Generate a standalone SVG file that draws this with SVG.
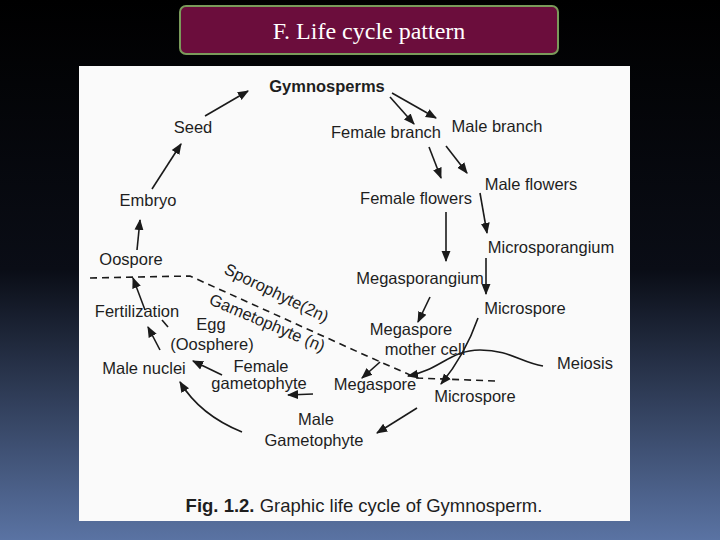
<svg xmlns="http://www.w3.org/2000/svg" width="720" height="540" viewBox="0 0 720 540">
<defs>
<linearGradient id="bg" x1="0" y1="0" x2="0" y2="1">
<stop offset="0" stop-color="#000"/><stop offset="0.5" stop-color="#0a0d16"/><stop offset="1" stop-color="#5a73a3"/>
</linearGradient>
<marker id="ah" viewBox="0 0 10 10" refX="9" refY="5" markerWidth="7" markerHeight="7" orient="auto-start-reverse">
<path d="M0,1 L10,5 L0,9 Z" fill="#1a1a1a"/>
</marker>
<style>
.t{font-family:"Liberation Sans",Arial,sans-serif;font-size:16.5px;fill:#1e1e1e;text-anchor:middle}
.b{font-weight:bold}
.c line,.c path{stroke:#1a1a1a;stroke-width:1.6;fill:none;marker-end:url(#ah)}
.d{stroke:#1a1a1a;stroke-width:1.6;fill:none;stroke-dasharray:7 5}
</style>
</defs>
<rect width="720" height="540" fill="url(#bg)"/>
<g id="title">
<rect x="180" y="6" width="378" height="48" rx="6" fill="#6b0d3c" stroke="#7a9a5a" stroke-width="2"/>
<text x="369" y="39" font-family="Liberation Serif,serif" font-size="24" fill="#fff" text-anchor="middle">F. Life cycle pattern</text>
</g>
<rect x="79" y="66" width="551" height="455" fill="#fafafa"/>
<path class="d" d="M90,278 L190,276 L367,356 L417,378 L495,381"/>
<g class="c">
<line x1="205" y1="116" x2="248" y2="91"/>
<line x1="152" y1="189" x2="181" y2="144"/>
<line x1="137" y1="250" x2="140" y2="220"/>
<line x1="390" y1="97" x2="414" y2="124"/>
<line x1="392" y1="93" x2="436" y2="118"/>
<line x1="429" y1="147" x2="441" y2="178"/>
<line x1="446" y1="146" x2="467" y2="173"/>
<line x1="480" y1="193" x2="487" y2="233"/>
<line x1="446" y1="212" x2="446" y2="261"/>
<line x1="486" y1="258" x2="486" y2="294"/>
<line x1="430" y1="297" x2="418" y2="322"/>
<path d="M478,318 Q465,355 441,384"/>
<path d="M543,366 C520,362 510,350 480,350 C450,350 440,370 408,376"/>
<line x1="380" y1="362" x2="362" y2="378"/>
<line x1="313" y1="394" x2="288" y2="395"/>
<line x1="222" y1="375" x2="193" y2="361"/>
<line x1="160" y1="350" x2="148" y2="327"/>
<path d="M242,432 Q200,415 180,382"/>
<line x1="417" y1="408" x2="377" y2="433"/>
<line x1="145" y1="310" x2="133" y2="278" stroke-width="2.4"/>
<line x1="168" y1="327" x2="162" y2="320" style="marker-end:none"/>
</g>
<g id="gymnosperms"><text class="t b" x="327" y="92">Gymnosperms</text></g>
<g id="seed"><text class="t" x="193" y="133">Seed</text></g>
<g id="female-branch"><text class="t" x="386" y="138">Female branch</text></g>
<g id="male-branch"><text class="t" x="497" y="132">Male branch</text></g>
<g id="embryo"><text class="t" x="148" y="206">Embryo</text></g>
<g id="male-flowers"><text class="t" x="531" y="190">Male flowers</text></g>
<g id="female-flowers"><text class="t" x="416" y="204">Female flowers</text></g>
<g id="microsporangium"><text class="t" x="551" y="253">Microsporangium</text></g>
<g id="oospore"><text class="t" x="131" y="265">Oospore</text></g>
<g id="megasporangium"><text class="t" x="420" y="284">Megasporangium</text></g>
<g id="microspore1"><text class="t" x="525" y="314">Microspore</text></g>
<g id="fertilization"><text class="t" x="137" y="317">Fertilization</text></g>
<g id="egg"><text class="t" x="211" y="330">Egg</text><text class="t" x="212" y="350">(Oosphere)</text></g>
<g id="mmc"><text class="t" x="411" y="335">Megaspore</text><text class="t" x="425" y="355">mother cell</text></g>
<g id="meiosis"><text class="t" x="585" y="369">Meiosis</text></g>
<g id="male-nuclei"><text class="t" x="144" y="374">Male nuclei</text></g>
<g id="female-gametophyte"><text class="t" x="261" y="372">Female</text><text class="t" x="259" y="389">gametophyte</text></g>
<g id="megaspore"><text class="t" x="375" y="390">Megaspore</text></g>
<g id="microspore2"><text class="t" x="475" y="402">Microspore</text></g>
<g id="male-gametophyte"><text class="t" x="316" y="425">Male</text><text class="t" x="314" y="446">Gametophyte</text></g>
<text class="t" x="274" y="298" transform="rotate(26 274 298)">Sporophyte(2n)</text>
<text class="t" x="265" y="328" transform="rotate(23 265 328)">Gametophyte (n)</text>
<text class="t" x="364" y="512" style="font-size:18.5px"><tspan font-weight="bold">Fig. 1.2.</tspan> Graphic life cycle of Gymnosperm.</text>
</svg>
